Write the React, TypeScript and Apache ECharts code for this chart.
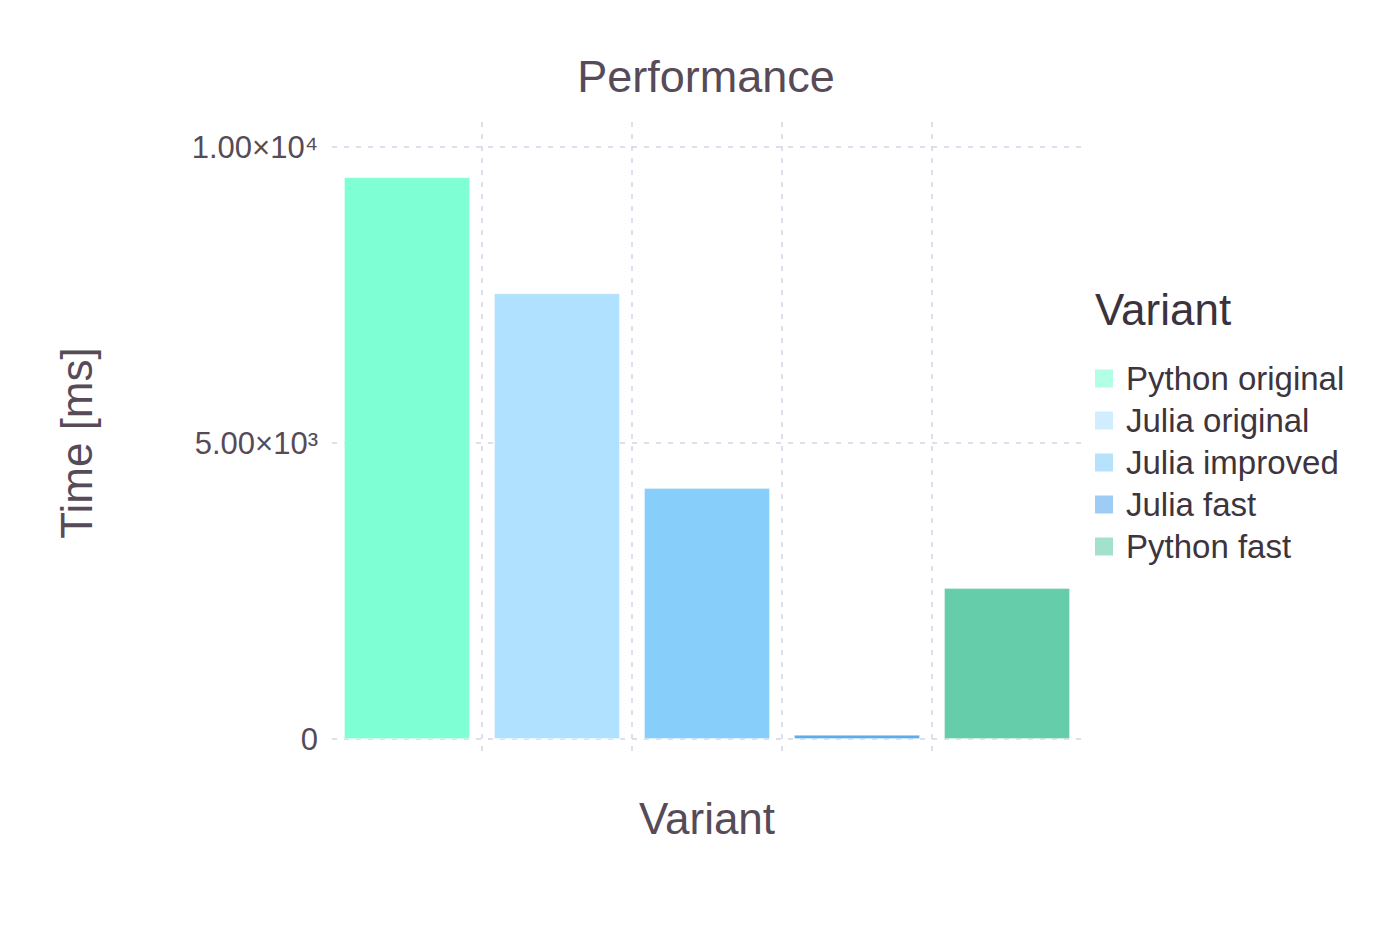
import React, { useEffect, useRef } from "react";
import * as echarts from "echarts";

const categories = ["Python original", "Julia original", "Julia improved", "Julia fast", "Python fast"];
const times = [9490, 7530, 4240, 70, 2550];
const colors = ["#7FFFD4", "#B0E2FF", "#87CEFA", "#5CACEE", "#66CDAA"];
const yTicks = [0, 5000, 10000];

const SUP: Record<string, string> = { "0": "⁰", "1": "¹", "2": "²", "3": "³", "4": "⁴", "5": "⁵", "6": "⁶", "7": "⁷", "8": "⁸", "9": "⁹" };

function sci(v: number): string {
  if (v === 0) return "0";
  const e = Math.floor(Math.log10(Math.abs(v)));
  const m = v / Math.pow(10, e);
  const sup = String(e).split("").map((c) => SUP[c] || c).join("");
  return m.toFixed(2) + "×10" + sup;
}

const FONT = "'Liberation Sans', Arial, Helvetica, sans-serif";
const TXT = "#564b57";
const GRID = "#d4d4e6";

export default function App() {
  const ref = useRef<HTMLDivElement>(null);
  useEffect(() => {
    if (!ref.current) return;
    const chart = echarts.init(ref.current, undefined, { renderer: "svg" });
    const series = categories.map((name, i) => ({
      name,
      type: "bar",
      xAxisIndex: 0,
      yAxisIndex: 0,
      stack: "all",
      barWidth: 126,
      data: categories.map((_, j) => (j === i ? times[i] : "-")),
      itemStyle: { color: colors[i], borderColor: "rgba(255,255,255,0.35)", borderWidth: 1 },
      emphasis: { disabled: true },
    }));
    chart.setOption({
      animation: false,
      backgroundColor: "#ffffff",
      textStyle: { fontFamily: FONT },
      title: {
        text: "Performance",
        left: 693,
        top: 41,
        textAlign: "center",
        textStyle: { fontFamily: FONT, fontSize: 45, fontWeight: "normal", color: TXT },
      },
      graphic: [
        {
          type: "text",
          left: 1087,
          top: 279,
          style: { text: "Variant", fontFamily: FONT, fontSize: 44, fill: "#3b323c" },
        },
      ],
      legend: {
        orient: "vertical",
        left: 1082,
        top: 349,
        itemWidth: 18,
        itemHeight: 18,
        itemGap: 9,
        icon: "rect",
        data: categories.map((name, i) => ({ name, itemStyle: { color: colors[i], opacity: 0.6, borderWidth: 0 } })),
        textStyle: { fontFamily: FONT, fontSize: 33, color: "#3d343e", lineHeight: 33, padding: [0, 0, 0, 8] },
      },
      grid: [
        { left: 324, right: 310, top: 139, bottom: 186 },
        { left: 324, right: 310, top: 114, bottom: 167 },
      ],
      xAxis: [
        {
          type: "category",
          gridIndex: 0,
          data: categories,
          name: "Variant",
          nameLocation: "middle",
          nameGap: 57,
          nameTextStyle: { fontFamily: FONT, fontSize: 44, color: TXT },
          axisLine: { show: false },
          axisTick: { show: false },
          axisLabel: { show: false },
          splitLine: { show: false },
        },
        {
          type: "value",
          gridIndex: 1,
          min: 0,
          max: 5,
          interval: 1,
          axisLine: { show: false },
          axisTick: { show: false },
          axisLabel: { show: false },
          splitLine: {
            show: true,
            showMinLine: false,
            showMaxLine: false,
            lineStyle: { color: GRID, width: 1.5, type: [5, 7] },
          },
        },
      ],
      yAxis: [
        {
          type: "value",
          gridIndex: 0,
          min: yTicks[0],
          max: yTicks[yTicks.length - 1],
          interval: yTicks[1] - yTicks[0],
          name: "Time [ms]",
          nameLocation: "middle",
          nameGap: 234,
          nameTextStyle: { fontFamily: FONT, fontSize: 44, color: TXT },
          axisLine: { show: false },
          axisTick: { show: false },
          axisLabel: { margin: 14, fontFamily: FONT, fontSize: 31, color: TXT, formatter: (v: number) => sci(v) },
          splitLine: { show: true, lineStyle: { color: GRID, width: 1.5, type: [5, 7] } },
        },
        { type: "value", gridIndex: 1, show: false, splitLine: { show: false } },
      ],
      series,
    });
    return () => chart.dispose();
  }, []);
  return <div ref={ref} style={{ width: 1384, height: 917 }} />;
}
